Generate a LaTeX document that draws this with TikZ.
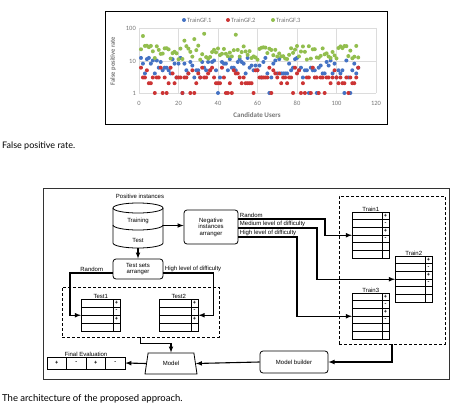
\documentclass[tikz,border=0pt]{standalone}
\usepackage{fontspec}
\setmainfont{Liberation Sans}
\newfontfamily\chartfont{Carlito}
\newfontfamily\capfont{Lato}
\usetikzlibrary{shapes.geometric,arrows}

\definecolor{gfblue}{RGB}{68,114,196}
\definecolor{gfred}{RGB}{204,52,52}
\definecolor{gfgreen}{RGB}{146,190,78}
\definecolor{axgray}{RGB}{118,118,118}
\definecolor{gridgray}{RGB}{220,220,220}

\tikzset{
  procbox/.style={draw, rounded corners=3pt, line width=0.8pt, align=center, font=\fontsize{6}{6.5}\selectfont, inner sep=1pt},
  conn/.style={-latex, line width=1.1pt},
  lbl/.style={font=\fontsize{6}{7}\selectfont, inner sep=1pt},
  dashfr/.style={draw, densely dashed, line width=0.9pt},
  sgn/.style={font=\bfseries\fontsize{5.5}{5.5}\selectfont, inner sep=0pt},
  chartlbl/.style={font=\chartfont\fontsize{6.5}{7}\selectfont, text=axgray, inner sep=1pt},
}

\begin{document}
\begin{tikzpicture}[x=1pt, y=-1pt]
  \useasboundingbox (0,0) rectangle (474,412);
  \fill[white] (0,0) rectangle (474,412);

  % scatter chart
  \draw[line width=0.6pt] (105,11) rectangle (387,124);
  \foreach \v in {0,20,...,120}
    \draw[gridgray, line width=0.5pt] (139+1.975*\v,28) -- (139+1.975*\v,93);
  \foreach \yy in {28,61,93}
    \draw[gridgray, line width=0.5pt] (139,\yy) -- (376,\yy);
  \foreach \v/\yy in {100/28,10/61,1/93}
    \node[chartlbl, anchor=east] (yt\v) at (137,\yy) {\v};
  \foreach \v in {0,20,...,120}
    \node[chartlbl] (xt\v) at (139+1.975*\v,103) {\v};
  \node[chartlbl, rotate=90, font=\chartfont\bfseries\fontsize{6.5}{7}\selectfont] (ytitle) at (113,61) {False positive rate};
  \node[chartlbl, font=\chartfont\bfseries\fontsize{7}{8}\selectfont] (xtitle) at (257,115) {Candidate Users};

  \foreach \c/\nm/\lx in {gfblue/TrainGF.1/184, gfred/TrainGF.2/228, gfgreen/TrainGF.3/273}{
    \fill[\c] (\lx,20) circle[radius=2pt];
    \node[chartlbl, anchor=west] (leg\lx) at (\lx+2,20) {\nm};
  }

  \pgfmathsetseed{17}
  \pgfmathdeclarerandomlist{bvals}{{1}{3}{4}{4}{5}{6}{6}{8}{9}{10}{11}{12}{5}{7}}
  \pgfmathdeclarerandomlist{rvals}{{1}{2}{2}{3}{3}{3}{4}{5}{6}{2}{1}{3}}
  \foreach \i in {1,...,111}{
    \pgfmathrandomitem{\bv}{bvals}
    \fill[gfblue] (139+1.975*\i,{93-32.5*log10(\bv)}) circle[radius=2pt];
  }
  \foreach \i in {1,...,111}{
    \pgfmathrandomitem{\rv}{rvals}
    \fill[gfred] (139+1.975*\i,{93-32.5*log10(\rv)}) circle[radius=2pt];
  }
  \foreach \i in {1,...,111}{
    \pgfmathsetmacro\gl{rnd<0.07 ? 1.6+0.25*rnd : 1.24+0.22*rand}
    \fill[gfgreen] (139+1.975*\i,{93-32.5*\gl}) circle[radius=2pt];
  }

  \node[anchor=west, font=\capfont\fontsize{9}{10}\selectfont, inner sep=0pt] (capA) at (2,146) {False positive rate.};

  % architecture
  \draw[line width=0.8pt, black!80] (43,188) rectangle (449,379);

  % positive instances store
  \draw[line width=0.8pt, fill=white] (113,208) -- (113,243)
    arc[start angle=180, end angle=360, x radius=25pt, y radius=5pt] -- (163,208);
  \draw[line width=0.8pt] (138,208) ellipse[x radius=25pt, y radius=5pt];
  \draw[line width=0.8pt] (113,225) arc[start angle=180, end angle=360, x radius=25pt, y radius=5pt];
  \node[minimum width=50pt, minimum height=45pt, inner sep=0pt] (db) at (138,225.5) {};
  \node[lbl] (postitle) at (140,196) {Positive instances};
  \node[lbl] (dbtrain) at (138,221) {Training};
  \node[lbl] (dbtest) at (138,240) {Test};

  \node[procbox, minimum width=54pt, minimum height=34pt] (negarr) at (211,227) {Negative\\instances\\arranger};
  \node[procbox, minimum width=50pt, minimum height=20pt] (tsarr) at (138,269) {Test sets\\arranger};

  % train tables
  \node[dashfr, minimum width=106pt, minimum height=148pt] (trainset) at (392,270) {};
  \foreach \nm/\tx/\ty/\lab in {trainA/352/212/Train1, trainB/395/256/Train2, trainC/352/293/Train3}{
    \node[draw, line width=0.5pt, minimum width=37pt, minimum height=46pt, inner sep=0pt, anchor=north west,
      label={[lbl, yshift=-1pt]above:\lab}] (\nm) at (\tx,\ty) {};
    \draw[line width=0.5pt] (\tx+30,\ty) -- (\tx+30,\ty+46);
    \foreach \r in {1,...,5}
      \draw[line width=0.5pt] (\tx,\ty+\r*46/6) -- (\tx+37,\ty+\r*46/6);
    \foreach \sg/\r in {+/0,-/1,+/2,-/3}
      \node[sgn] (\nm s\r) at (\tx+33.5,\ty+\r*46/6+23/6) {\sg};
  }

  % test tables
  \node[dashfr, minimum width=157pt, minimum height=50pt] (testset) at (140.5,312) {};
  \foreach \nm/\tx/\lab in {testA/81/Test1, testB/159/Test2}{
    \node[draw, line width=0.5pt, minimum width=39pt, minimum height=32pt, inner sep=0pt, anchor=north west,
      label={[lbl, yshift=-1pt]above:\lab}] (\nm) at (\tx,299) {};
    \draw[line width=0.5pt] (\tx+32,299) -- (\tx+32,331);
    \foreach \r in {1,2,3}
      \draw[line width=0.5pt] (\tx,299+\r*8) -- (\tx+39,299+\r*8);
    \foreach \sg/\r in {+/0,-/1,+/2}
      \node[sgn] (\nm s\r) at (\tx+35.5,303+\r*8) {\sg};
  }

  \node[procbox, minimum width=68pt, minimum height=22pt] (mbuild) at (294,362) {Model builder};
  \node[draw, line width=0.8pt, trapezium, trapezium left angle=79, trapezium right angle=79,
    trapezium stretches=true, minimum width=52pt, minimum height=21pt, lbl] (model) at (171,363.5) {Model};

  % final evaluation row
  \node[draw, line width=0.6pt, minimum width=78pt, minimum height=12pt, inner sep=0pt,
    label={[lbl, yshift=-1pt]above:Final Evaluation}] (final) at (86,363) {};
  \foreach \sg/\k in {+/0,-/1,+/2,-/3}{
    \ifnum\k>0 \draw[line width=0.6pt] (47+19.5*\k,357) -- (47+19.5*\k,369); \fi
    \node[sgn] (fin\k) at (56.75+19.5*\k,363) {\sg};
  }

  % connectors
  \draw[conn] (db.east) -- (db.east -| negarr.west);
  \draw[conn] (db.south) -- (tsarr.north);
  \draw[conn] ([yshift=8pt]negarr.east) node[lbl, above right] {Random}
    -| ([xshift=-27pt]trainA.west) -- (trainA.west);
  \draw[conn] ([yshift=-1pt]negarr.east) node[lbl, above right] {Medium level of difficulty}
    -| ([xshift=-78pt]trainB.west) -- (trainB.west);
  \draw[conn] ([yshift=-10pt]negarr.east) node[lbl, above right] {High level of difficulty}
    -| ([xshift=-55pt]trainC.west) -- (trainC.west);
  \draw[conn] ([yshift=-4pt]tsarr.west) node[lbl, above left, xshift=-8pt] {Random}
    -| ([xshift=-11pt]testA.west) -- (testA.west);
  \draw[conn] ([yshift=-4pt]tsarr.east) node[lbl, above right] {High level of difficulty}
    -| ([xshift=15pt]testB.east) -- (testB.east);
  \draw[conn] (testset.south) -- ++(0,6) -| (model.north);
  \draw[conn] (trainset.south) |- (mbuild.east);
  \draw[conn] (mbuild.west) -- (model.east);
  \draw[conn] (model.west) -- (final.east);

  \node[anchor=west, font=\capfont\fontsize{9.5}{10}\selectfont, inner sep=0pt] (capB) at (2,399) {The architecture of the proposed approach.};
\end{tikzpicture}
\end{document}
